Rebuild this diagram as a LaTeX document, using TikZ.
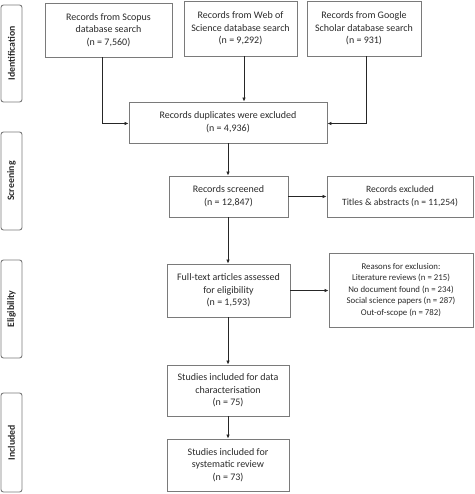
\documentclass[tikz,border=0pt]{standalone}
\usepackage{fontspec}
\setmainfont{Carlito}
\usetikzlibrary{arrows.meta}
\definecolor{boxgray}{HTML}{7A7A7A}
\definecolor{txt}{HTML}{2A2A2A}
\begin{document}
\begin{tikzpicture}[x=1pt,y=-1pt,
  box/.style={draw=boxgray,line width=0.9pt,rectangle,align=center,inner sep=1pt,
    font=\fontsize{10}{12.6}\selectfont,text=txt},
  smallbox/.style={box,font=\fontsize{8.8}{11.4}\selectfont},
  side/.style={draw=boxgray,line width=0.9pt,rounded corners=2.5pt,rotate=90,
    minimum height=21pt,inner sep=0pt,font=\fontsize{9.8}{10}\bfseries,text=txt},
  arr/.style={draw=black!85,line width=0.9pt,-{Latex[length=4pt,width=3.6pt]}}]
\useasboundingbox (0,0) rectangle (474,494);
% side labels
\node[side,minimum width=97pt] (sid) at (11.5,53.5) {Identification};
\node[side,minimum width=98pt] (sscr) at (11.5,181) {Screening};
\node[side,minimum width=98pt] (self) at (11.5,309) {Eligibility};
\node[side,minimum width=99pt] (sinc) at (11.5,442.5) {Included};
% boxes
\node[box,minimum width=127pt,minimum height=54pt] (scopus) at (108.5,30) {Records from Scopus\\database search\\(n = 7,560)};
\node[box,minimum width=113pt,minimum height=55pt] (wos) at (240.5,28.5) {Records from Web of\\Science database search\\(n = 9,292)};
\node[box,minimum width=114pt,minimum height=55pt] (google) at (364,28.5) {Records from Google\\Scholar database search\\(n = 931)};
\node[box,minimum width=198pt,minimum height=41pt] (dup) at (228,122.5) {Records duplicates were excluded\\(n = 4,936)};
\node[box,minimum width=119pt,minimum height=41pt] (scr) at (228.5,196.5) {Records screened\\(n = 12,847)};
\node[box,font=\fontsize{9.6}{12.6}\selectfont,minimum width=146pt,minimum height=41pt] (exc) at (400,196.5) {Records excluded\\Titles \& abstracts (n = 11,254)};
\node[box,minimum width=123pt,minimum height=53pt] (full) at (228.5,290.5) {Full-text articles assessed\\for eligibility\\(n = 1,593)};
\node[smallbox,minimum width=144pt,minimum height=74pt] (reasons) at (401,290) {Reasons for exclusion:\\Literature reviews (n = 215)\\No document found (n = 234)\\Social science papers (n = 287)\\Out-of-scope (n = 782)};
\node[box,minimum width=122pt,minimum height=51pt] (data) at (228,390.5) {Studies included for data\\characterisation\\(n = 75)};
\node[box,minimum width=122pt,minimum height=52pt] (sys) at (228,465) {Studies included for\\systematic review\\(n = 73)};
% connectors
\draw[arr] (scopus.south -| 102,0) |- (dup.west |- 0,123.5);
\draw[arr] (google.south -| 366,0) |- (dup.east |- 0,123.5);
\draw[arr] (wos.south -| 244,0) -- (dup.north -| 244,0);
\draw[arr] (dup.south -| 228,0) -- (scr.north -| 228,0);
\draw[arr] (scr.east) -- (exc.west);
\draw[arr] (scr.south -| 228,0) -- (full.north -| 228,0);
\draw[arr] (full.east) -- (reasons.west |- full.east);
\draw[arr] (full.south -| 228,0) -- (data.north -| 228,0);
\draw[arr] (data.south) -- (sys.north);
\end{tikzpicture}
\end{document}
